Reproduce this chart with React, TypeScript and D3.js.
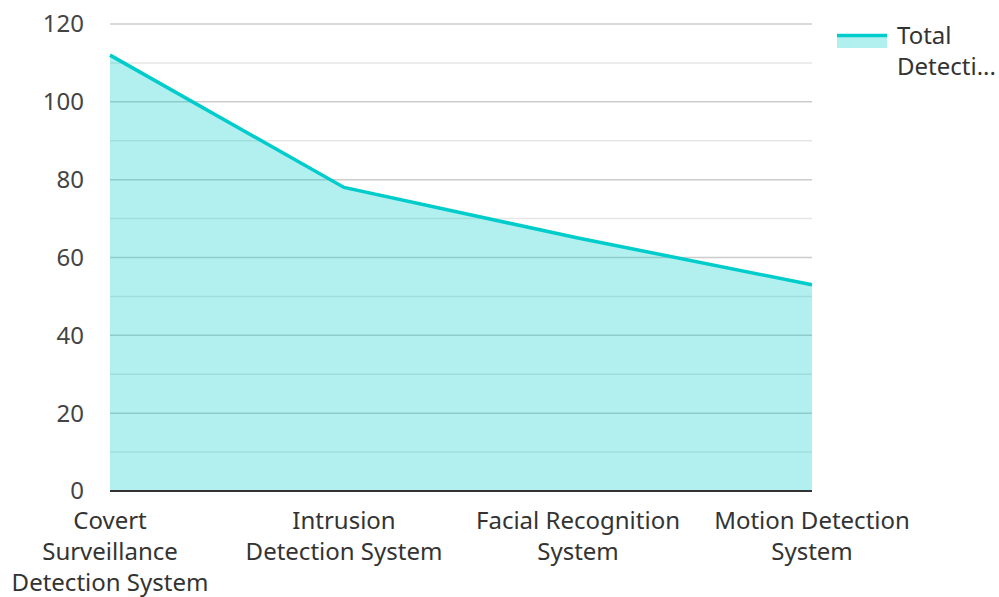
import React, { useEffect, useRef } from "react";
import * as d3 from "d3";

// chart data
const categories: string[][] = [
  ["Covert", "Surveillance", "Detection System"],
  ["Intrusion", "Detection System"],
  ["Facial Recognition", "System"],
  ["Motion Detection", "System"],
];
const totalDetections = [112, 78, 65, 53];
const yTicks = [0, 20, 40, 60, 80, 100, 120];
const minorTicks = [10, 30, 50, 70, 90, 110];
const legendLines = ["Total", "Detecti..."];

const W = 999;
const H = 597;
const margin = { left: 110, right: 187, top: 24, bottom: 106 };
const COLOR = "#00cccc";
const FONT = "'Noto Sans', 'Open Sans', sans-serif";

function App() {
  const svgRef = useRef<SVGSVGElement>(null);

  useEffect(() => {
    const svg = d3.select(svgRef.current);
    svg.selectAll("*").remove();

    const x = d3
      .scalePoint<number>()
      .domain(categories.map((_, i) => i))
      .range([margin.left, W - margin.right]);
    const y = d3.scaleLinear().domain([0, 120]).range([H - margin.bottom, margin.top]);

    // gridlines
    svg
      .append("g")
      .selectAll("line.minor")
      .data(minorTicks)
      .join("line")
      .attr("x1", margin.left)
      .attr("x2", W - margin.right)
      .attr("y1", (d) => y(d))
      .attr("y2", (d) => y(d))
      .attr("stroke", "#e6e6e6")
      .attr("stroke-width", 1.5);
    svg
      .append("g")
      .selectAll("line.major")
      .data(yTicks.filter((d) => d > 0))
      .join("line")
      .attr("x1", margin.left)
      .attr("x2", W - margin.right)
      .attr("y1", (d) => y(d))
      .attr("y2", (d) => y(d))
      .attr("stroke", "#cccccc")
      .attr("stroke-width", 1.5);

    // area + line
    const area = d3
      .area<number>()
      .x((_, i) => x(i)!)
      .y0(y(0))
      .y1((d) => y(d));
    svg.append("path").datum(totalDetections).attr("d", area).attr("fill", COLOR).attr("fill-opacity", 0.3);

    const line = d3
      .line<number>()
      .x((_, i) => x(i)!)
      .y((d) => y(d));
    svg
      .append("path")
      .datum(totalDetections)
      .attr("d", line)
      .attr("fill", "none")
      .attr("stroke", COLOR)
      .attr("stroke-width", 3.5);

    // x axis baseline
    svg
      .append("line")
      .attr("x1", margin.left)
      .attr("x2", W - margin.right)
      .attr("y1", y(0))
      .attr("y2", y(0))
      .attr("stroke", "#333")
      .attr("stroke-width", 2);

    // y tick labels
    svg
      .append("g")
      .selectAll("text")
      .data(yTicks)
      .join("text")
      .attr("x", 84)
      .attr("y", (d) => y(d))
      .attr("dy", "0.35em")
      .attr("text-anchor", "end")
      .attr("font-family", FONT)
      .attr("font-size", 24)
      .attr("fill", "#444")
      .text((d) => d);

    // x labels
    const xl = svg
      .append("g")
      .selectAll("text")
      .data(categories)
      .join("text")
      .attr("text-anchor", "middle")
      .attr("font-family", FONT)
      .attr("font-size", 24)
      .attr("fill", "#333");
    xl.selectAll("tspan")
      .data((d, i) => d.map((t) => ({ t, i })))
      .join("tspan")
      .attr("x", (d) => x(d.i)!)
      .attr("y", (_, j) => 529 + j * 31)
      .text((d) => d.t);

    // legend
    const lg = svg.append("g");
    lg.append("rect").attr("x", 837).attr("y", 35).attr("width", 50).attr("height", 13).attr("fill", COLOR).attr("fill-opacity", 0.3);
    lg.append("line").attr("x1", 837).attr("x2", 887).attr("y1", 35.5).attr("y2", 35.5).attr("stroke", COLOR).attr("stroke-width", 3.5);
    lg.selectAll("text")
      .data(legendLines)
      .join("text")
      .attr("x", 897)
      .attr("y", (_, i) => 44 + i * 31)
      .attr("font-family", FONT)
      .attr("font-size", 24)
      .attr("fill", "#333")
      .text((d) => d);
  }, []);

  return <svg ref={svgRef} width={W} height={H} style={{ position: "absolute", left: 0, top: 0 }} />;
}

export default App;
